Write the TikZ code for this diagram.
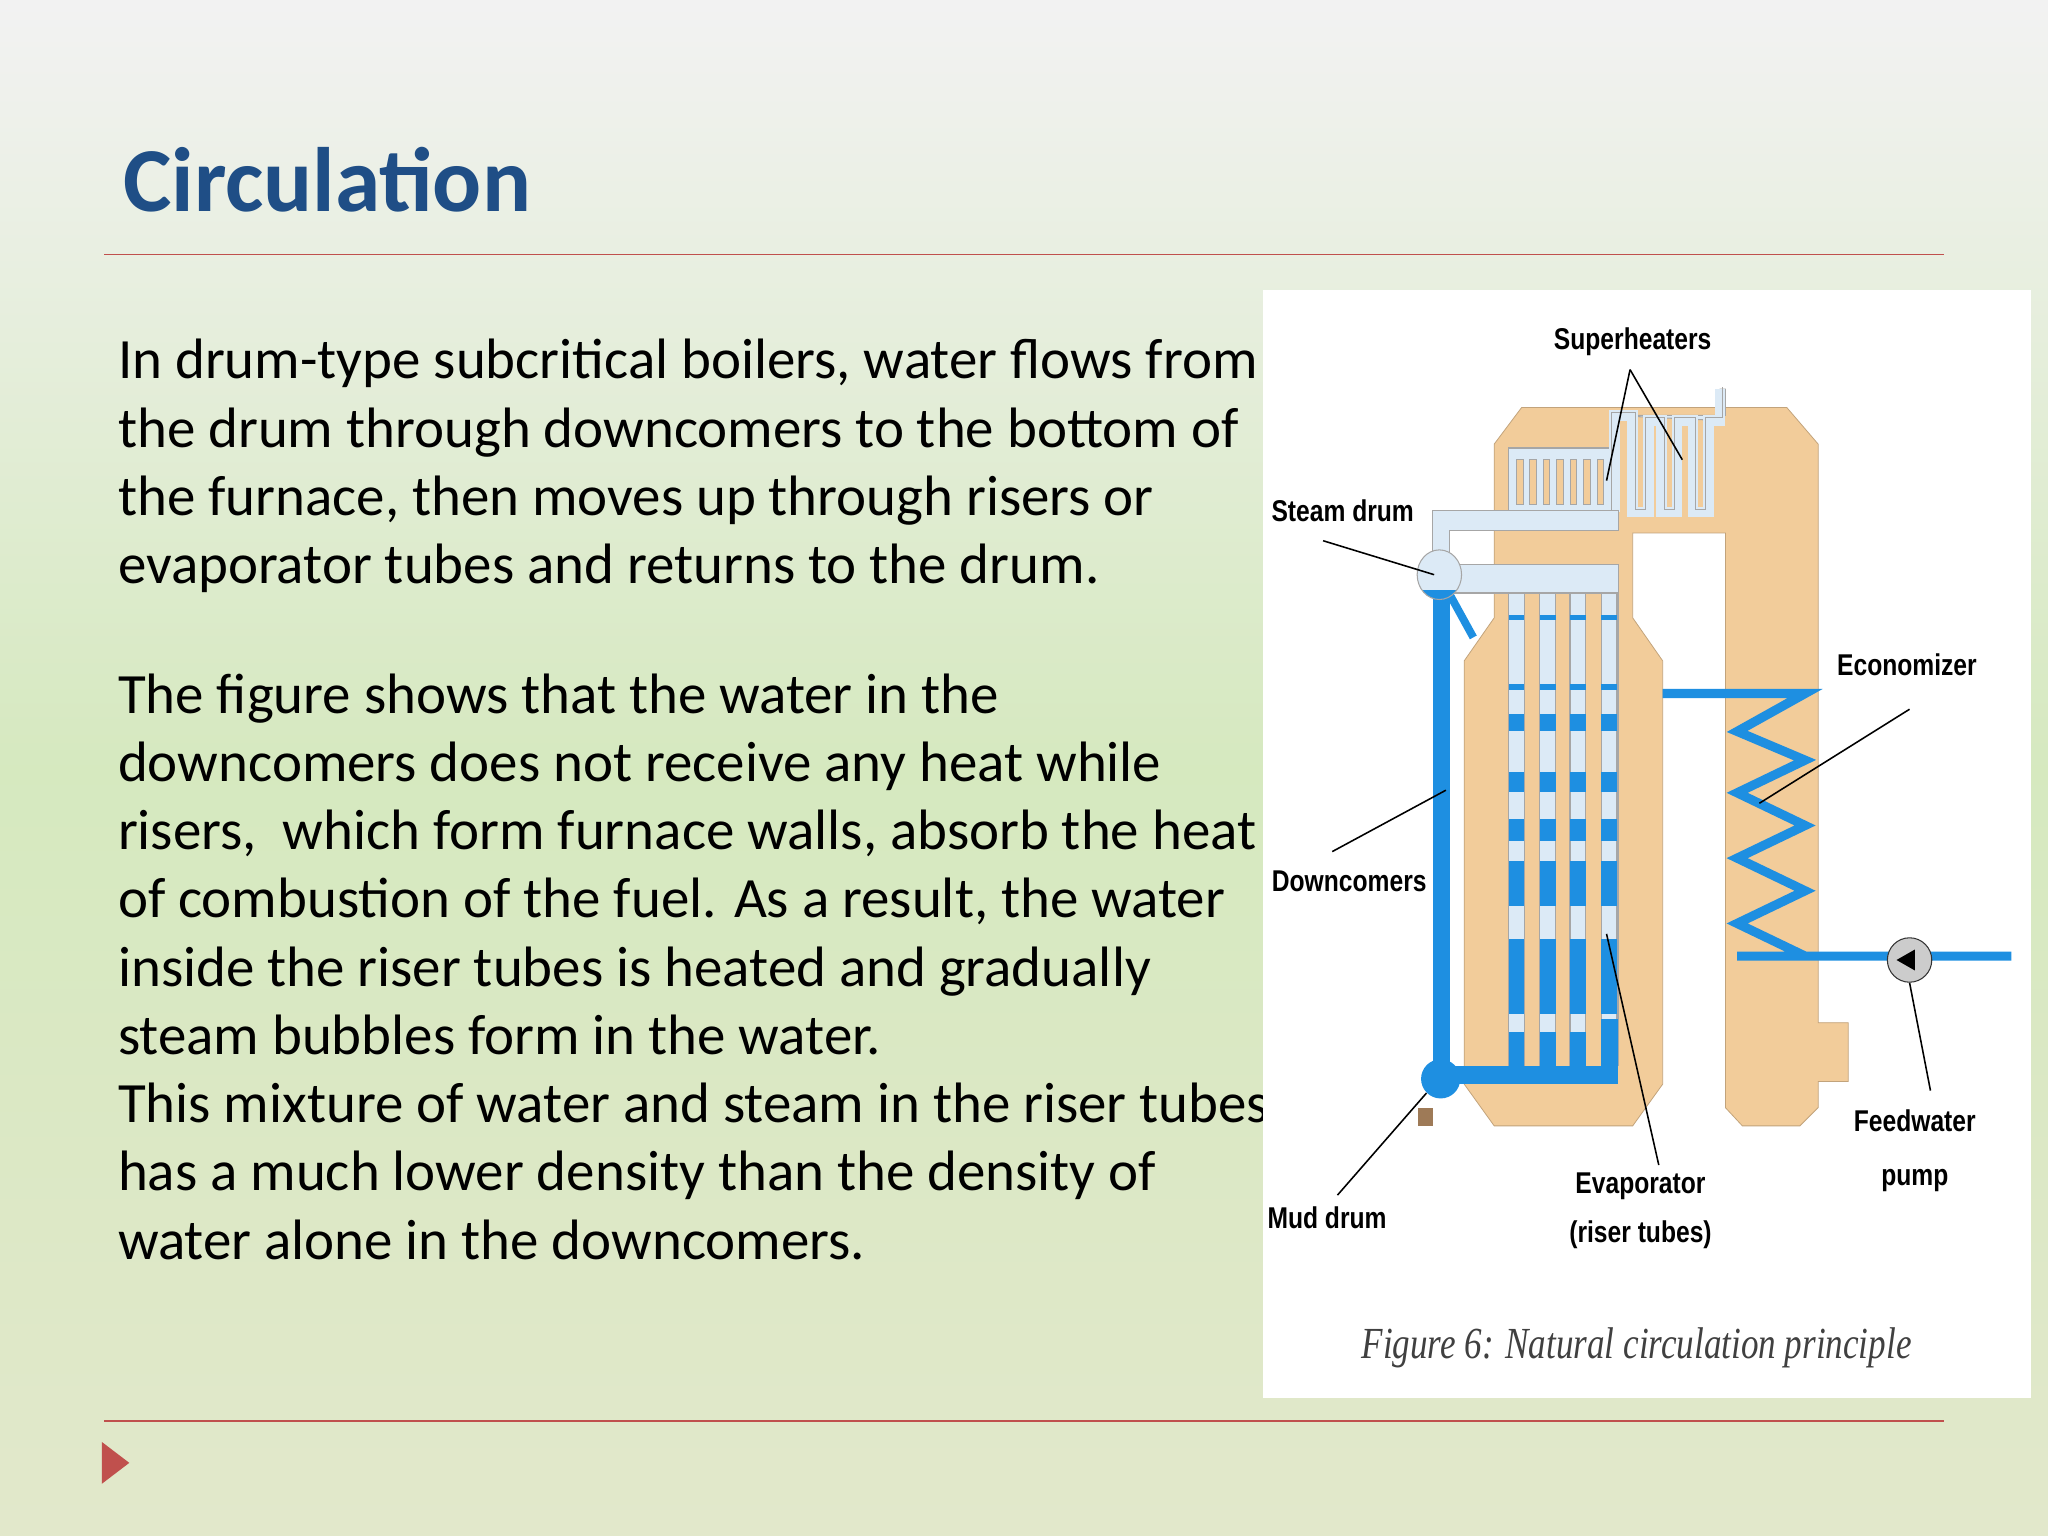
\documentclass[tikz,border=0pt]{standalone}
\usepackage{fontspec}
\setmainfont{Carlito}
\newfontfamily\lab{Liberation Sans}
\newfontfamily\capf{Liberation Serif}
\begin{document}
\begin{tikzpicture}[x=0.5pt,y=-0.5pt,
  body/.style={anchor=base west,inner sep=0,font=\fontsize{21.8}{26}\selectfont},
  lbl/.style={font=\lab\bfseries\fontsize{11.5}{13}\selectfont,xscale=0.82,inner sep=0,align=center},
  lead/.style={black,line width=0.6pt},
  tan/.style={fill=tanc,draw=tanc!80!black,line width=0.3pt},
  steam/.style={fill=lb,draw=gray!70,line width=0.4pt},
  ]
\definecolor{tanc}{HTML}{F2CC9A}
\definecolor{lb}{HTML}{DCEAF6}
\definecolor{wb}{HTML}{1E8FE1}
\definecolor{redl}{HTML}{C0504D}
\definecolor{titc}{HTML}{1F4E86}
\useasboundingbox (0,0) rectangle (1568,1176);
\shade[top color=white!90!gray, bottom color=white!80!green!40!olive!30!white, middle color=green!30!olive!25!white] (0,0) rectangle (1568,1176);
\node[anchor=base west,inner sep=0,font=\bfseries\fontsize{35}{40}\selectfont,text=titc] (title) at (94,162) {Circulation};
\draw[redl,line width=0.6pt] (80,195) -- (1488,195);
\draw[redl,line width=0.6pt] (80,1088) -- (1488,1088);
\fill[redl] (78,1104) -- (99,1120) -- (78,1136) -- cycle;
% body text
\foreach \t [count=\i] in {{In drum-type subcritical boilers, water flows from},the drum through downcomers to the bottom of,{the furnace, then moves up through risers or},evaporator tubes and returns to the drum.}
  \node[body] at (90,{280+10+(\i-1)*52.3}) {\t};
\foreach \t [count=\i] in {The figure shows that the water in the,downcomers does not receive any heat while,{risers,\ \ which form furnace walls, absorb the heat},{of combustion of the fuel. As a result, the water},inside the riser tubes is heated and gradually,steam bubbles form in the water.,This mixture of water and steam in the riser tubes,has a much lower density than the density of,water alone in the downcomers.}
  \node[body] at (90,{536+10+(\i-1)*52.25}) {\t};
% figure panel
\fill[white] (967,222) rectangle (1555,1070);
% tan housing
\path[tan] (1165,312) -- (1368,312) -- (1392,340) -- (1392,783) -- (1415,783) -- (1415,828) -- (1392,828) -- (1392,848) -- (1378,862) -- (1334,862) -- (1321,848) -- (1321,408) -- (1250,408) -- (1250,473) -- (1273,506) -- (1273,830) -- (1250,862) -- (1144,862) -- (1121,830) -- (1121,506) -- (1144,473) -- (1144,340) -- cycle;
% superheater comb
\path[steam] (1155,343) rectangle (1233,392);
\foreach \k in {0,...,6} \path[fill=tanc,draw=gray!70,line width=0.3pt] ({1161+\k*10.3},352) rectangle ({1166+\k*10.3},386);
\path[steam] (1233,318) -- (1321,318) -- (1321,298) -- (1317,298) -- (1317,322) -- cycle;
\draw[lb,line width=4pt] (1236,392) -- (1236,318) -- (1250,318) -- (1250,392) -- (1262,392) -- (1262,322) -- (1272,322) -- (1272,392) -- (1284,392) -- (1284,322) -- (1296,322) -- (1296,392) -- (1308,392) -- (1308,322) -- (1317,322) -- (1317,298);
\draw[gray!70,line width=0.4pt] (1234,392) -- (1234,316) -- (1252,316) -- (1252,390) -- (1260,390) -- (1260,320) -- (1274,320) -- (1274,390) -- (1282,390) -- (1282,320) -- (1298,320) -- (1298,390) -- (1306,390) -- (1306,320) -- (1319,320) -- (1319,296);
% steam line from drum
\path[steam] (1097,430) -- (1097,391) -- (1239,391) -- (1239,406) -- (1110,406) -- (1110,430) -- cycle;
\path[steam] (1110,432) -- (1239,432) -- (1239,816) -- (1233,816) -- (1233,454) -- (1110,454) -- cycle;
% risers
\foreach \xx in {1155,1179,1202,1226} {
  \path[steam] (\xx,454) rectangle ({\xx+12},816);
  \foreach \a/\b in {471/475,524/528,547/560,591/606,627/644,659/694,719/776,790/816}
    \fill[wb] (\xx,\a) rectangle ({\xx+12},\b);
}
% bottom header and downcomer
\fill[wb] (1097,448) rectangle (1110,830);
\fill[wb] (1100,816) rectangle (1239,830);
\fill[wb] (1226,780) rectangle (1239,830);
\draw[wb,line width=3pt] (1106,448) -- (1128,488);
% steam drum
\begin{scope}
\clip (1102,440) ellipse (17 and 19);
\fill[lb] (1080,420) rectangle (1125,452);
\fill[wb] (1080,452) rectangle (1125,462);
\end{scope}
\draw[gray!70,line width=0.4pt] (1102,440) ellipse (17 and 19);
\node[circle,fill=wb,minimum size=15pt,inner sep=0] (mud) at (1103,826) {};
\fill[brown!70!black!80] (1086,848) rectangle (1097,862);
% economizer
\draw[wb,line width=3.5pt,line join=miter] (1273,531) -- (1382,531) -- (1330,560) -- (1382,582) -- (1330,607) -- (1382,632) -- (1330,657) -- (1382,682) -- (1330,707) -- (1382,732) -- (1330,732) -- (1540,732);
\node[circle,draw=black!80,fill=gray!40,minimum size=17pt,inner sep=0] (pump) at (1462,735) {};
\fill[black] (1452,735) -- (1466,727) -- (1466,743) -- cycle;
% labels
\node[lbl] (sh) at (1250,262) {Superheaters};
\draw[lead] (1248,283) -- (1230,368); \draw[lead] (1248,283) -- (1288,352);
\node[lbl] (sd) at (1028,391) {Steam drum};
\draw[lead] (1013,414) -- (1098,440);
\node[lbl] (ec) at (1460,509) {Economizer};
\draw[lead] (1462,543) -- (1347,615);
\node[lbl] (dc) at (1033,675) {Downcomers};
\draw[lead] (1020,652) -- (1107,605);
\node[lbl] (fw) at (1466,881) {Feedwater\\[8pt]pump};
\draw[lead] (1478,835) -- (pump.south);
\node[lbl] (md) at (1016,932) {Mud drum};
\draw[lead] (1024,915) -- (mud.south west);
\node[lbl] (ev) at (1256,927) {Evaporator\\[6pt](riser tubes)};
\draw[lead] (1270,892) -- (1230,715);
\node[font=\capf\itshape\fontsize{17}{18}\selectfont,xscale=0.79,text=black!75] (cap) at (1253,1032) {Figure 6: Natural circulation principle};
\end{tikzpicture}
\end{document}
